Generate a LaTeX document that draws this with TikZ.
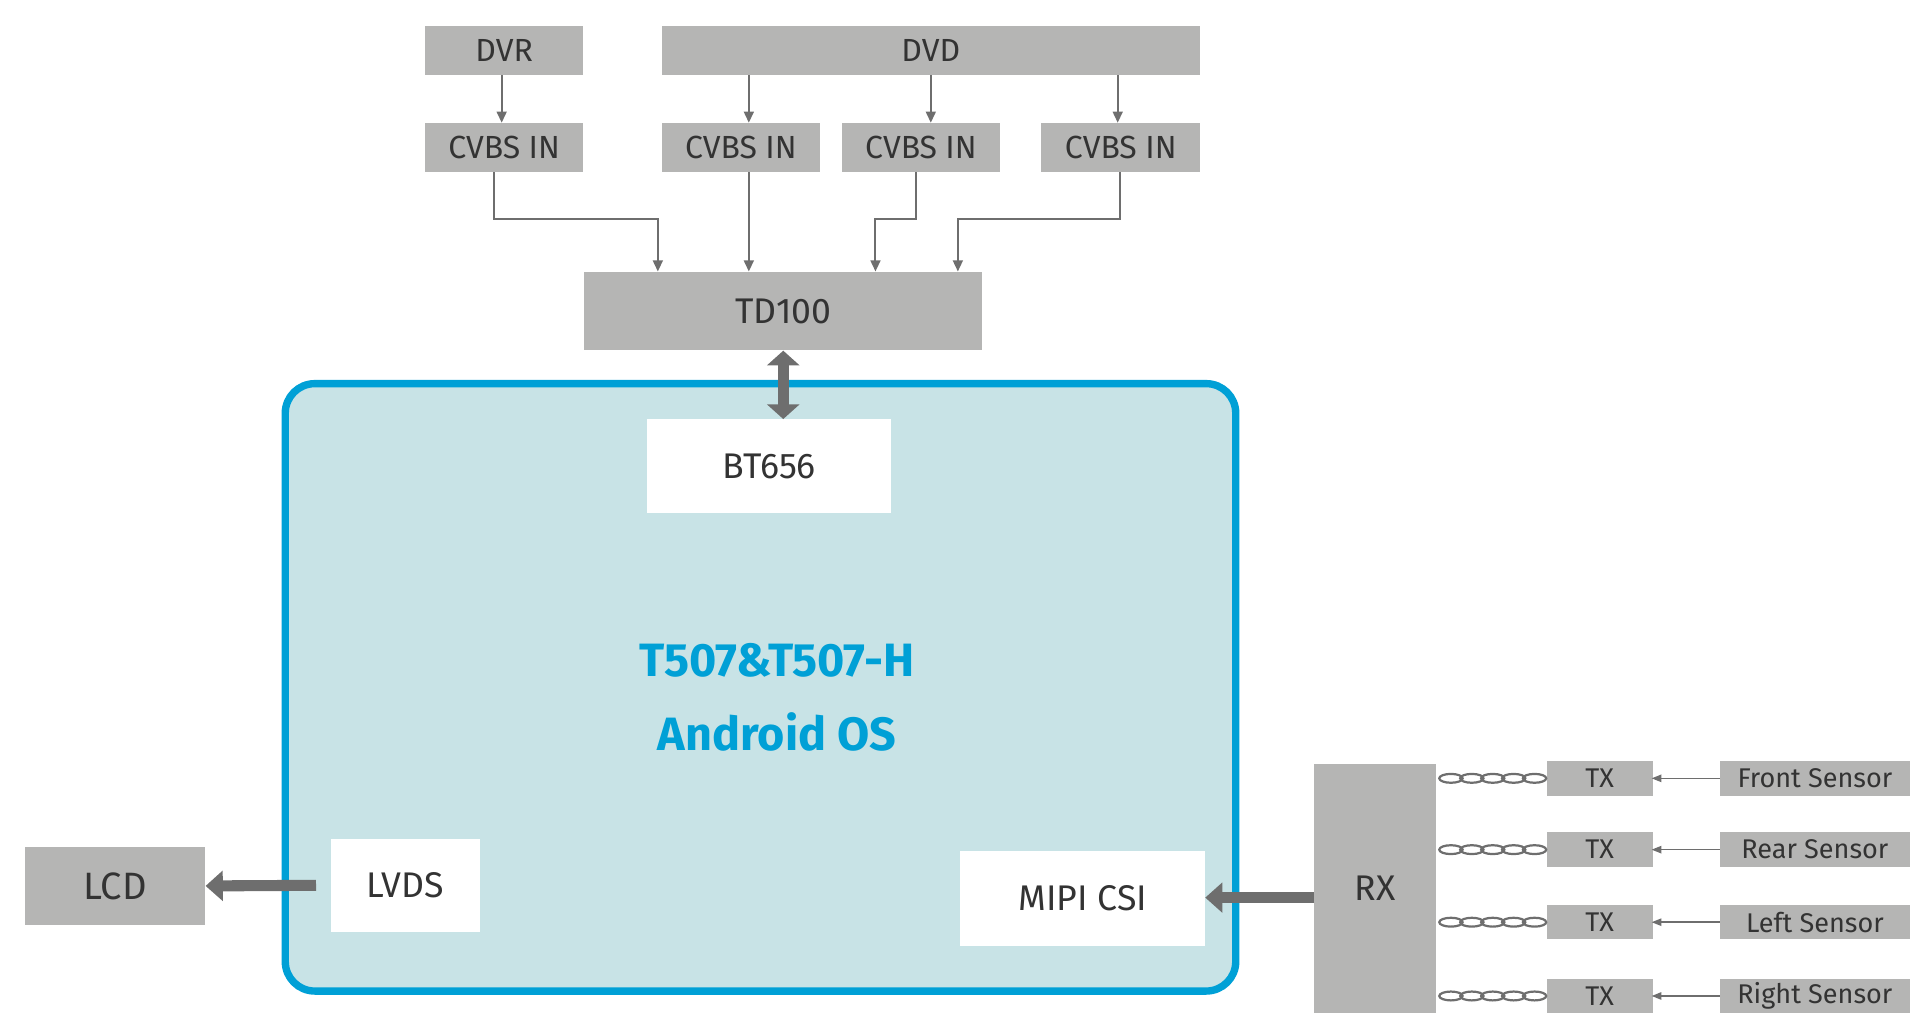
\documentclass[tikz,border=0pt]{standalone}
\usepackage{fontspec}
\setmainfont{Fira Sans}
\usetikzlibrary{arrows.meta}
\definecolor{gbox}{HTML}{B5B5B4}
\definecolor{garr}{HTML}{6E6E6E}
\definecolor{tblue}{HTML}{00A0D6}
\definecolor{tfill}{HTML}{C8E3E6}
\definecolor{tx}{HTML}{333333}
\begin{document}
\begin{tikzpicture}[x=1pt,y=-1pt,
 box/.style={fill=gbox,inner sep=0,text=tx},
 wbox/.style={fill=white,inner sep=0,text=tx},
 thin/.style={draw=garr,line width=1.6pt,-{Triangle[length=9pt,width=8pt]}},
 fat/.style={draw=garr,line width=9pt,-{Triangle[length=14pt,width=24pt]}},
 small/.style={draw=garr,line width=1.3pt,-{Triangle[length=8pt,width=6pt]}}]
\useasboundingbox (0,0) rectangle (1568,840);
\node[box,minimum width=128,minimum height=40,font=\fontsize{26}{26}\selectfont] (dvr) at (410,41) {DVR};
\node[box,minimum width=438,minimum height=40,font=\fontsize{26}{26}\selectfont] (dvd) at (757,41) {DVD};
\foreach \n/\x/\w in {c1/410/128,c2/602.5/129,c3/749/128,c4/911.5/129}
  \node[box,minimum width=\w,minimum height=40,font=\fontsize{26}{26}\selectfont] (\n) at (\x,120) {CVBS IN};
\node[box,minimum width=324,minimum height=64,font=\fontsize{29}{29}\selectfont] (td) at (637,253) {TD100};
\draw[thin] (dvr.south -| 408,0) -- (c1.north -| 408,0);
\draw[thin] (dvd.south -| 609,0) -- (c2.north -| 609,0);
\draw[thin] (dvd.south -| 757,0) -- (c3.north -| 757,0);
\draw[thin] (dvd.south -| 909,0) -- (c4.north -| 909,0);
\draw[thin] (c1.south -| 402,0) -- (402,178) -- (535,178) -- (td.north -| 535,0);
\draw[thin] (c2.south -| 609,0) -- (td.north -| 609,0);
\draw[thin] (c3.south -| 745,0) -- (745,178) -- (712,178) -- (td.north -| 712,0);
\draw[thin] (c4.south -| 911,0) -- (911,178) -- (779,178) -- (td.north -| 779,0);
\node[draw=tblue,line width=6pt,fill=tfill,rounded corners=24pt,minimum width=773,minimum height=494,inner sep=0] (soc) at (618.5,559) {};
\node[text=tblue,font=\bfseries\fontsize{38}{60}\selectfont,align=center] (title) at (632,567) {T507\&T507-H\\Android OS};
\node[wbox,minimum width=199,minimum height=76,font=\fontsize{29}{29}\selectfont] (bt) at (625.5,379) {BT656};
\draw[draw=garr,line width=9pt,{Triangle[length=12pt,width=26pt]}-{Triangle[length=12pt,width=26pt]}] (td.south -| 637,0) -- (bt.north -| 637,0);
\node[wbox,minimum width=121,minimum height=76,font=\fontsize{29}{29}\selectfont] (lvds) at (329.5,720) {LVDS};
\node[box,minimum width=147,minimum height=63,font=\fontsize{31}{31}\selectfont] (lcd) at (93.5,720.5) {LCD};
\draw[fat] (257,720) -- (lcd.east);
\node[wbox,minimum width=199,minimum height=77,font=\fontsize{29}{29}\selectfont] (mipi) at (880.5,730.5) {MIPI CSI};
\node[box,minimum width=99,minimum height=203,font=\fontsize{29}{29}\selectfont] (rx) at (1118.5,722.5) {RX};
\draw[fat] (rx.west |- 0,730) -- (mipi.east |- 0,730);
\foreach \i/\y/\s in {1/633/Front Sensor,2/691/Rear Sensor,3/750/Left Sensor,4/810/Right Sensor}{
  \node[box,minimum width=86,minimum height=28,font=\fontsize{22}{22}\selectfont] (tx\i) at (1301,\y) {TX};
  \node[box,minimum width=154,minimum height=28,font=\fontsize{22}{22}\selectfont] (s\i) at (1476,\y) {\s};
  \draw[small] (s\i.west) -- ([xshift=-1pt]tx\i.east);
  \foreach \k in {0,...,4}
    \draw[garr,line width=1.8pt] (1180+\k*17,\y) ellipse [x radius=9.5,y radius=3.6];
}
\end{tikzpicture}
\end{document}
